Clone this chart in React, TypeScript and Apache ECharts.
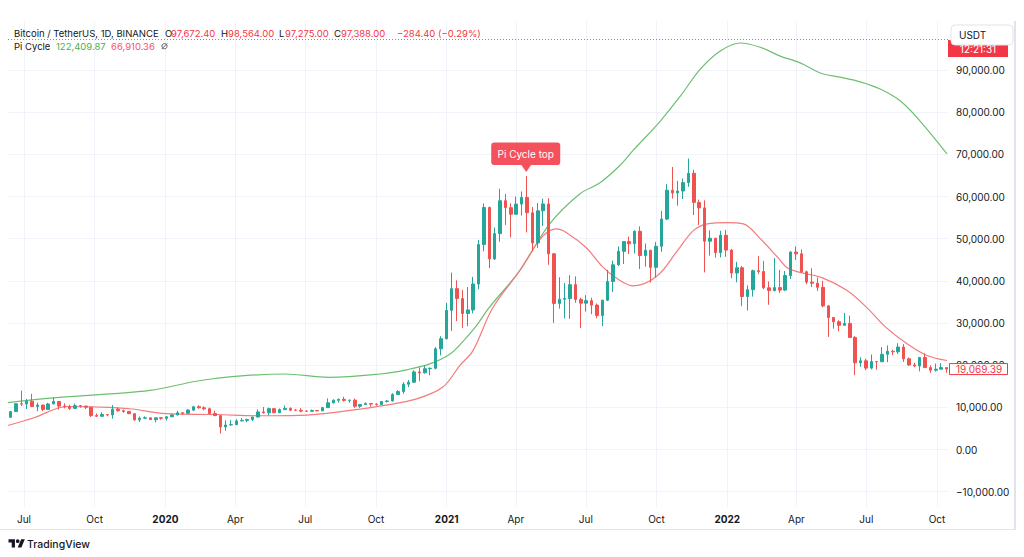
import React, { useEffect, useRef } from "react";
import * as echarts from "echarts";

const FONT = "Inter, 'Noto Sans', sans-serif";
const DARK = "#131722";
const UP = "#26a69a";
const DOWN = "#ef5350";

// Weekly candles (BTC/USDT), week starting Monday 2019-06-10; open = previous close
const firstWeekStart = "2019-06-10";
const firstOpen = 7640;
const weekClose = [
  8990, 10850, 10800, 11450, 10200, 10530, 9500, 10800, 11400, 10300, 10140, 9750, 10400, 10300, 10030, 8050, 7880, 8280, 8220, 9550, 9200, 9040, 8500, 7050, 7420, 7510, 7080, 7510, 7390, 7760,
  8190, 8700, 8600, 9340, 10150, 9900, 9660, 8530, 8030, 5360, 5820, 5880, 6780, 6910, 7120, 7700, 8900, 8720, 9680, 8720, 9450, 9750, 9330, 9300, 9100, 9070, 9250, 9160, 9930, 11060, 11680, 11900, 11650, 11700, 10250, 10680, 10920, 10770, 10670, 11380, 11500, 13030, 13740, 15480, 15960, 18400, 18180, 19150, 19270, 23870, 26280, 33000,
  38150, 35800, 32260, 33100, 39250, 48600, 57400, 45200, 51200, 59000, 57350, 55800, 58200, 59770, 56150, 49000, 56600, 58240, 46400, 34650, 35650, 35800, 39100, 35600, 34700, 35300, 34250, 31780, 35400, 39850, 43800, 47000, 49300, 48800, 51750, 46000, 47250, 43200, 48200, 54650, 61500, 60850, 61300, 63300, 65500, 58600, 57300, 49400, 50100, 46700, 50800, 47300,
  41860, 43100, 36280, 37900, 42400, 42200, 38350, 37700, 38400, 37800, 41260, 46830, 46400, 42150, 39700, 39450, 38470, 34060, 31300, 30290, 29450, 29900, 26570, 20550, 21030, 19300, 20850, 20800, 22580, 23300, 23170, 24300, 21500, 20050, 19800, 21830, 19420, 18800, 19050, 19420, 19069.39,
];
const weekLow = [
  7520, 8980, 10300, 9600, 10100, 9070, 9100, 9380, 10750, 9460, 9740, 9330, 9720, 9890, 9600, 7700, 7770, 7780, 7870, 7300, 8970, 8700, 8380, 6790, 6520, 7280, 7000, 6430, 7050, 6850,
  7670, 8110, 8250, 8560, 9100, 9700, 9300, 8450, 8000, 3780, 4440, 5670, 5860, 6700, 6460, 6750, 7630, 8520, 8100, 8700, 8630, 9380, 9100, 9200, 8830, 8890, 9050, 9070, 9120, 9900, 10920, 11120, 11380, 11100, 9880, 9880, 10620, 10140, 10380, 10530, 11180, 11400, 12900, 13200, 14800, 15790, 16200, 18000, 17600, 19000, 22350, 26100,
  28130, 30420, 28850, 29240, 32300, 37990, 47000, 43000, 44950, 49270, 53270, 50310, 55700, 55500, 51500, 47000, 47800, 53000, 43800, 30000, 33400, 31100, 31000, 34800, 28800, 32700, 32100, 31100, 29280, 35200, 37330, 43500, 43990, 46370, 46510, 42800, 43370, 39600, 40800, 46900, 54400, 59500, 57820, 59400, 62300, 55600, 53250, 42000, 46000, 45500, 45560, 45700,
  40610, 39650, 34000, 32950, 36250, 41650, 38000, 34320, 37450, 37150, 37560, 40460, 44950, 41900, 39200, 38530, 37580, 33700, 26700, 28650, 28020, 29300, 26560, 17620, 19630, 18780, 19000, 18910, 20760, 20700, 22400, 22660, 20760, 19800, 19520, 18540, 19320, 18150, 18480, 19000, 18190,
];
const weekHigh = [
  9090, 10950, 13970, 12000, 13200, 11100, 10660, 11080, 12330, 11450, 10950, 10620, 10900, 10450, 10350, 10070, 8520, 8820, 8420, 10540, 9950, 9500, 9100, 8500, 7850, 7860, 7540, 7520, 7700, 7810,
  8480, 9190, 8760, 9600, 10170, 10500, 10250, 9960, 9190, 8180, 6900, 6970, 7200, 7460, 7300, 7770, 9470, 10070, 9950, 9840, 9740, 10430, 9990, 9590, 9800, 9310, 9480, 9300, 10120, 12120, 11900, 12080, 12490, 11800, 12090, 10800, 11180, 10990, 10950, 11490, 11720, 13350, 14100, 15960, 16480, 18800, 19480, 19920, 19420, 24300, 26870, 34780,
  41950, 40100, 37850, 38530, 40950, 49700, 58350, 57600, 52640, 61840, 60600, 58400, 60000, 61200, 64850, 57520, 58450, 59500, 59590, 46600, 40850, 39480, 41320, 41060, 36000, 36600, 35980, 34650, 35500, 42600, 44800, 48140, 49380, 50500, 52000, 52920, 48850, 47350, 49240, 56560, 62930, 67000, 63710, 64270, 69000, 66340, 59270, 59100, 51950, 50200, 51870, 52100,
  47570, 44500, 43500, 38920, 42650, 45850, 44750, 39840, 45400, 42590, 42330, 47000, 48190, 47450, 42400, 42970, 40800, 40020, 34250, 31350, 30650, 32400, 31750, 26900, 21870, 21540, 22520, 21000, 24280, 24670, 23650, 25210, 25000, 21820, 20580, 21860, 22800, 19960, 20390, 20480, 19520,
];

// Pi Cycle: 350DMA x2 (green) and 111DMA (red)
const piLongDates = [
  "2019-06-10", "2019-08-04", "2019-10-21", "2019-12-12", "2020-02-14", "2020-04-13", "2020-06-04", "2020-08-01",
  "2020-10-06", "2020-11-10", "2020-12-10", "2021-01-05", "2021-01-22", "2021-02-08", "2021-02-25", "2021-04-06", "2021-05-15", "2021-06-23",
  "2021-07-19", "2021-08-14", "2021-08-31", "2021-10-06", "2021-11-01", "2021-11-27", "2021-12-23", "2022-01-18",
  "2022-02-13", "2022-03-11", "2022-04-06", "2022-05-02", "2022-05-28", "2022-06-23", "2022-07-19", "2022-08-14",
  "2022-09-09", "2022-10-14",
];
const piLongValues = [
  11100, 12200, 13200, 14000, 16300, 17500, 17900, 17100,
  17900, 18900, 20300, 22600, 25600, 29200, 33600, 42400, 53500, 60600,
  63200, 67300, 70800, 77900, 83800, 90200, 94500, 96400,
  95400, 93300, 91700, 89300, 88300, 87200, 85500, 82700,
  77900, 70100,
];
const piShortDates = [
  "2019-06-10", "2019-07-15", "2019-08-26", "2019-10-20", "2019-11-19", "2020-01-02", "2020-03-07", "2020-05-02",
  "2020-06-23", "2020-08-26", "2020-10-10", "2020-11-23", "2020-12-27", "2021-01-18", "2021-02-04", "2021-03-02",
  "2021-04-06", "2021-04-28", "2021-05-11", "2021-05-24", "2021-06-06", "2021-07-02", "2021-07-22", "2021-08-11",
  "2021-09-01", "2021-10-02", "2021-10-28", "2021-11-18", "2021-12-06", "2022-01-01", "2022-01-22", "2022-02-13",
  "2022-03-08", "2022-03-20", "2022-04-06", "2022-05-05", "2022-06-06", "2022-07-02", "2022-07-27", "2022-08-23",
  "2022-09-18", "2022-10-14",
];
const piShortValues = [
  5700, 7600, 10200, 10000, 9600, 8500, 8300, 8000,
  8100, 9200, 10400, 12000, 14800, 19900, 23400, 33600,
  42400, 48800, 51400, 52300, 51400, 47800, 43500, 40500,
  38800, 41200, 47100, 51900, 53500, 53800, 53500, 50000,
  45500, 43100, 42000, 40700, 37700, 33600, 28900, 25100,
  22300, 21100,
];

const xTickDates = [
  "2019-07-01", "2019-10-01", "2020-01-01", "2020-04-01", "2020-07-01", "2020-10-01", "2021-01-01",
  "2021-04-01", "2021-07-01", "2021-10-01", "2022-01-01", "2022-04-01", "2022-07-01", "2022-10-01",
];
const xTickLabels = ["Jul", "Oct", "2020", "Apr", "Jul", "Oct", "2021", "Apr", "Jul", "Oct", "2022", "Apr", "Jul", "Oct"];
const yTicks = [-10000, 0, 10000, 20000, 30000, 40000, 50000, 60000, 70000, 80000, 90000];

const currentPrice = 97388;
const lastVisiblePrice = 19069.39;
const piTopDate = "2021-04-14T12:00:00Z";
const piTopPrice = 64850;

const xMin = "2019-06-10T05:00:00Z";
const xMax = "2022-10-15T07:00:00Z";
const yMin = -13636;
const yMax = 101621;

function fmtPrice(v: number): string {
  const s = Math.abs(v).toLocaleString("en-US", { minimumFractionDigits: 2, maximumFractionDigits: 2 });
  return (v < 0 ? "\u2212" : "") + s;
}

const TV_LOGO = "M14 22H7V11H0V4h14v18zM28 22h-8l7.5-18h8L28 22zM24 8a4 4 0 1 1-8 0a4 4 0 1 1 8 0z";

export default function App() {
  const ref = useRef<HTMLDivElement>(null);

  useEffect(() => {
    const el = ref.current!;
    try {
      echarts.graphic.registerShape("tvlogo", echarts.graphic.extendPath(TV_LOGO, {}) as any);
    } catch (e) {}
    const chart = echarts.init(el, null, { renderer: "svg" });
    const DAY = 86400000;
    const start = Date.parse(firstWeekStart);
    const candles = weekClose.map((c, i) => [
      start + (i * 7 + 3.5) * DAY,
      i === 0 ? firstOpen : weekClose[i - 1],
      c,
      weekLow[i],
      weekHigh[i],
    ]);
    const longLine = piLongDates.map((d, i) => [Date.parse(d), piLongValues[i]]);
    const shortLine = piShortDates.map((d, i) => [Date.parse(d), piShortValues[i]]);
    const xTickVals = xTickDates.map((d) => Date.parse(d));

    chart.setOption({
      animation: false,
      backgroundColor: "#ffffff",
      textStyle: { fontFamily: FONT },
      grid: { left: 8, right: 76, top: 21, bottom: 50, outerBoundsMode: "none" },
      xAxis: {
        type: "value",
        min: Date.parse(xMin),
        max: Date.parse(xMax),
        axisLine: { show: false },
        axisTick: { show: false, customValues: xTickVals },
        splitLine: { show: true, lineStyle: { color: "#f0f3fa", width: 1 } },
        axisLabel: {
          customValues: xTickVals,
          margin: 7,
          color: DARK,
          fontSize: 10,
          fontFamily: FONT,
          formatter: (v: number) => {
            const idx = xTickVals.indexOf(v);
            const lab = idx >= 0 ? xTickLabels[idx] : "";
            return /^\d{4}$/.test(lab) ? "{b|" + lab + "}" : lab;
          },
          rich: { b: { fontWeight: "bold", fontSize: 10, color: DARK, fontFamily: FONT } },
        },
      },
      yAxis: {
        type: "value",
        position: "right",
        min: yMin,
        max: yMax,
        axisLine: { show: false },
        axisTick: { show: false, customValues: yTicks },
        splitLine: { show: true, lineStyle: { color: "#f0f3fa", width: 1 } },
        axisLabel: {
          customValues: yTicks,
          margin: 8,
          align: "left",
          color: DARK,
          fontSize: 10,
          fontFamily: FONT,
          formatter: (v: number) => fmtPrice(v),
        },
      },
      series: [
        {
          type: "line",
          data: longLine,
          showSymbol: false,
          smooth: 0.35,
          lineStyle: { color: "#6dbf70", width: 1.2 },
          z: 2,
        },
        {
          type: "line",
          data: shortLine,
          showSymbol: false,
          smooth: 0.35,
          lineStyle: { color: "#f47a7e", width: 1.2 },
          z: 2,
        },
        {
          type: "candlestick",
          data: candles,
          barWidth: 3,
          z: 3,
          itemStyle: {
            color: UP,
            color0: DOWN,
            borderColor: UP,
            borderColor0: DOWN,
            borderColorDoji: UP,
            borderWidth: 1,
          },
          markLine: {
            silent: true,
            symbol: "none",
            label: { show: false },
            lineStyle: { color: "#f23645", type: [1, 2], width: 1, opacity: 0.8 },
            data: [{ yAxis: currentPrice }],
          },
        },
      ],
    });

    const top = chart.convertToPixel({ gridIndex: 0 } as any, [Date.parse(piTopDate), piTopPrice]) as number[];
    const px = top[0];
    const py = top[1];
    const lastY = chart.convertToPixel({ yAxisIndex: 0 } as any, lastVisiblePrice) as number;

    const txt = (x: number, y: number, text: string, fill: string, extra: any = {}) => ({
      type: "text",
      x,
      y,
      z: 100,
      style: { text, fill, font: `9.5px ${FONT}`, verticalAlign: "middle", ...extra },
    });

    const graphics: any[] = [
      // frame
      { type: "line", z: 90, shape: { x1: 0, y1: 529.5, x2: 1015, y2: 529.5 }, style: { stroke: "#e0e3eb", lineWidth: 1 } },
      { type: "line", z: 90, shape: { x1: 1015, y1: 21, x2: 1015, y2: 530 }, style: { stroke: "#e0e3eb", lineWidth: 2 } },
      // header line 1
      txt(14, 33.8, "Bitcoin / TetherUS, 1D, BINANCE", DARK),
      txt(165, 33.8, "O", DARK),
      txt(171, 33.8, "97,672.40", "#f23645"),
      txt(221, 33.8, "H", DARK),
      txt(228, 33.8, "98,564.00", "#f23645"),
      txt(279, 33.8, "L", DARK),
      txt(285, 33.8, "97,275.00", "#f23645"),
      txt(334, 33.8, "C", DARK),
      txt(341, 33.8, "97,388.00", "#f23645"),
      txt(397, 33.8, "\u2212284.40 (\u22120.29%)", "#f23645"),
      // header line 2
      txt(14, 46, "Pi Cycle", DARK),
      txt(56, 46, "122,409.87", "#4caf50"),
      txt(111, 46, "66,910.36", "#f7525f"),
      { type: "circle", z: 100, shape: { cx: 164.5, cy: 46.2, r: 2.6 }, style: { fill: "none", stroke: "#50535e", lineWidth: 0.9 } },
      { type: "line", z: 100, shape: { x1: 161.8, y1: 49, x2: 167.2, y2: 43.4 }, style: { stroke: "#50535e", lineWidth: 0.9 } },
      // countdown label + USDT box
      { type: "rect", z: 100, shape: { x: 948, y: 40, width: 60, height: 17 }, style: { fill: "#f23645" } },
      txt(978, 49, "12:21:31", "#ffffff", { align: "center", font: `10px ${FONT}` }),
      { type: "rect", z: 101, shape: { x: 951, y: 25, width: 62, height: 20, r: 4 }, style: { fill: "#ffffff", stroke: "#e0e3eb", lineWidth: 1 } },
      { type: "text", x: 959, y: 34.5, z: 102, style: { text: "USDT", fill: DARK, font: `10px ${FONT}`, verticalAlign: "middle" } },
      // last visible price label
      { type: "rect", z: 100, shape: { x: 949.5, y: lastY - 5.5, width: 58, height: 11 }, style: { fill: "#ffffff", stroke: "#f23645", lineWidth: 1 } },
      txt(956, lastY, "19,069.39", "#f23645", { font: `10px ${FONT}` }),
      // Pi Cycle top annotation
      { type: "rect", z: 100, shape: { x: px - 35, y: py - 33.5, width: 69, height: 22.5, r: 3 }, style: { fill: "#f5515c" } },
      { type: "polygon", z: 100, shape: { points: [[px - 5, py - 11.2], [px + 5, py - 11.2], [px, py - 4]] }, style: { fill: "#f5515c" } },
      txt(px - 0.5, py - 22.2, "Pi Cycle top", "#ffffff", { align: "center", font: `10px ${FONT}` }),
      // TradingView logo
      { type: "tvlogo", z: 100, x: 8.5, y: 537.5, scaleX: 0.46, scaleY: 0.46, style: { fill: DARK } },
      txt(27, 544, "TradingView", DARK, { font: `500 10.5px ${FONT}` }),
    ];
    chart.setOption({ graphic: graphics });

    return () => chart.dispose();
  }, []);

  return (
    <div
      ref={ref}
      style={{ position: "fixed", left: 0, top: 0, width: 1024, height: 557, background: "#ffffff" }}
    />
  );
}
